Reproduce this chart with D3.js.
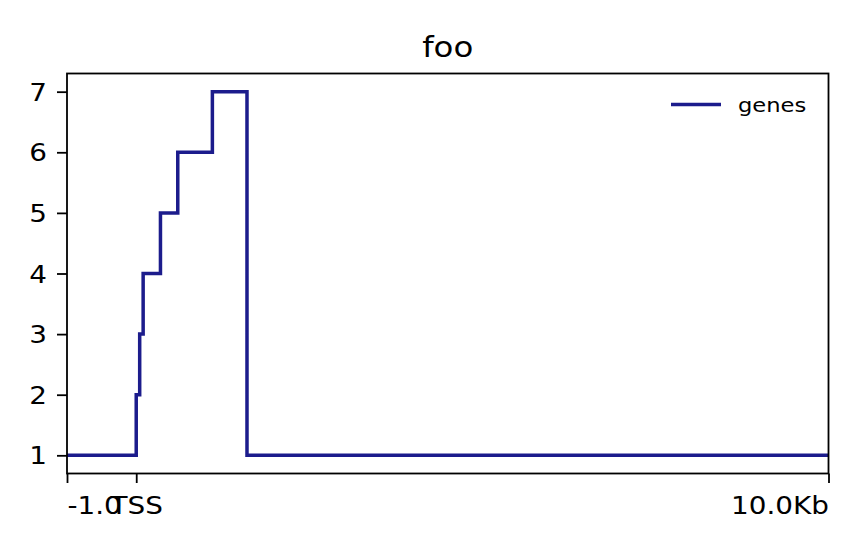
<!DOCTYPE html>
<html>
<head>
<meta charset="utf-8">
<script src="https://cdn.jsdelivr.net/npm/d3@7"></script>
<style>
  body { margin: 0; background: #fff; }
  text { font-family: "DejaVu Sans", sans-serif; fill: #000; }
</style>
</head>
<body>
<script>
// profile of "genes": step edges (kb from TSS) and level after each edge
let stepEdges = [-1.0, 0.0, 0.05, 0.1, 0.35, 0.6, 1.1, 1.6, 10.0];
let stepValues = [1, 2, 3, 4, 5, 6, 7, 1, 1];
let xTickValues = [-1.0, 0.0, 10.0];
let xTickLabels = ['-1.0', 'TSS', '10.0Kb'];
let yTickValues = [1, 2, 3, 4, 5, 6, 7];
let seriesName = 'genes';
let chartTitle = 'foo';

const W = 866, H = 551;
const margin = {left: 67, right: 37.5, top: 73.5, bottom: 77.5};
const stretch = 1.16;   // picture text is a bit wider than tall
const lineColor = '#1c1c8c';

let svg = d3.select('body').append('svg')
    .attr('width', W).attr('height', H);

let x = d3.scaleLinear()
    .domain([-1.0, 10.0])
    .range([margin.left, W - margin.right]);

let y = d3.scaleLinear()
    .domain([0.7, 7.3])
    .range([H - margin.bottom, margin.top]);

let pts = stepEdges.map((e, i) => ({x: e, y: stepValues[i]}));

let line = d3.line()
    .x(d => x(d.x))
    .y(d => y(d.y))
    .curve(d3.curveStepAfter);

svg.append('path')
    .datum(pts)
    .attr('d', line)
    .attr('fill', 'none')
    .attr('stroke', lineColor)
    .attr('stroke-width', 3.5)
    .attr('stroke-linejoin', 'miter');

// frame
svg.append('rect')
    .attr('x', x.range()[0]).attr('y', y.range()[1])
    .attr('width', x.range()[1] - x.range()[0])
    .attr('height', y.range()[0] - y.range()[1])
    .attr('fill', 'none').attr('stroke', '#000').attr('stroke-width', 1.8);

// y axis
let yAxis = svg.append('g')
    .attr('transform', `translate(${margin.left},0)`)
    .call(d3.axisLeft(y).tickValues(yTickValues).tickSize(10).tickFormat(d3.format('d')));
yAxis.select('.domain').remove();
yAxis.selectAll('.tick line').attr('stroke-width', 1.8);
yAxis.selectAll('.tick text')
    .attr('x', -20 / stretch)
    .attr('dy', '0.36em')
    .attr('transform', `scale(${stretch},1)`)
    .style('font-size', '24px')
    .attr('fill', '#000');

// x axis
let xAxis = svg.append('g')
    .attr('transform', `translate(0,${H - margin.bottom})`)
    .call(d3.axisBottom(x).tickValues(xTickValues).tickSize(9.5)
        .tickFormat((d, i) => xTickLabels[i]));
xAxis.select('.domain').remove();
xAxis.selectAll('.tick line').attr('stroke-width', 1.8);
xAxis.selectAll('.tick text')
    .attr('y', 40.5)
    .attr('dy', 0)
    .attr('transform', `scale(${stretch},1)`)
    .attr('text-anchor', (d, i) => i === 0 ? 'start' : (i === xTickValues.length - 1 ? 'end' : 'middle'))
    .style('font-size', '24px')
    .attr('fill', '#000');

// title
svg.append('text')
    .attr('transform', `translate(${(x.range()[0] + x.range()[1]) / 2},57) scale(${stretch},1)`)
    .attr('text-anchor', 'middle')
    .style('font-size', '28px')
    .text(chartTitle);

// legend
let legend = svg.append('g');
legend.append('line')
    .attr('x1', 671).attr('x2', 721)
    .attr('y1', 104.5).attr('y2', 104.5)
    .attr('stroke', lineColor).attr('stroke-width', 3.5);
legend.append('text')
    .attr('transform', `translate(738,111.5) scale(${stretch},1)`)
    .style('font-size', '19.5px')
    .text(seriesName);
</script>
</body>
</html>
